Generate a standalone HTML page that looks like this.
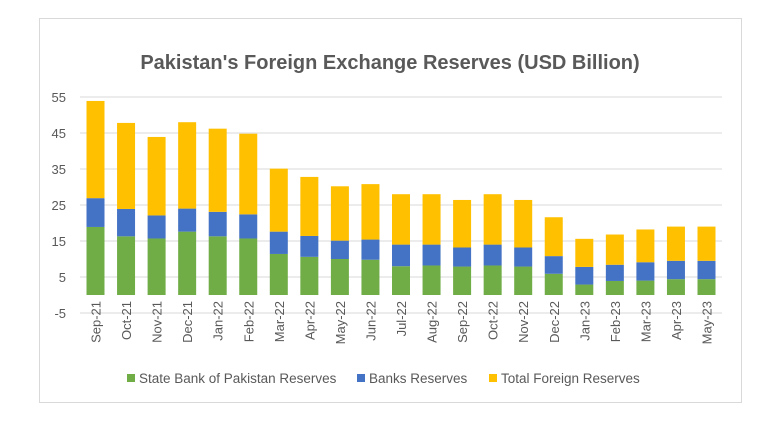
<!DOCTYPE html>
<html><head><meta charset="utf-8"><style>
body{margin:0;background:#fff;font-family:"Liberation Sans",sans-serif}
svg text{font-family:"Liberation Sans",sans-serif}
</style></head><body>
<svg width="778" height="429">
<rect x="39.5" y="18.5" width="702" height="384" fill="#fff" stroke="#d9d9d9"/>
<text x="390" y="69" text-anchor="middle" font-size="20" font-weight="bold" fill="#595959">Pakistan's Foreign Exchange Reserves (USD Billion)</text>
<g id="grid"></g><g id="bars"></g><g id="xl"></g>
<g>
<rect x="127" y="374" width="8" height="8" fill="#70ad47"/>
<text x="139" y="383" font-size="13.5" fill="#595959">State Bank of Pakistan Reserves</text>
<rect x="357" y="374" width="8" height="8" fill="#4472c4"/>
<text x="369" y="383" font-size="13.5" fill="#595959">Banks Reserves</text>
<rect x="489" y="374" width="8" height="8" fill="#ffc000"/>
<text x="501" y="383" font-size="13.5" fill="#595959">Total Foreign Reserves</text>
</g>
</svg>
<script>
const categories=["Sep-21","Oct-21","Nov-21","Dec-21","Jan-22","Feb-22","Mar-22","Apr-22","May-22","Jun-22","Jul-22","Aug-22","Sep-22","Oct-22","Nov-22","Dec-22","Jan-23","Feb-23","Mar-23","Apr-23","May-23"];
const sbp=[18.9,16.3,15.7,17.6,16.3,15.7,11.4,10.6,10.0,9.8,8.0,8.2,7.9,8.2,7.9,5.9,2.9,3.9,4.0,4.4,4.4];
const banks=[8.0,7.6,6.4,6.4,6.8,6.7,6.2,5.8,5.1,5.6,6.0,5.8,5.3,5.8,5.3,4.9,4.9,4.5,5.1,5.1,5.1];
const total=[27.0,23.9,21.8,24.0,23.1,22.4,17.5,16.4,15.1,15.4,14.0,14.0,13.2,14.0,13.2,10.8,7.8,8.4,9.1,9.5,9.5];
const ticks=[-5,5,15,25,35,45,55];
const NS="http://www.w3.org/2000/svg";
const y=v=>295-v*3.6, x=i=>95.5+i*30.55, bw=18;
function mk(t,a,p){const e=document.createElementNS(NS,t);for(const k in a)e.setAttribute(k,a[k]);p.appendChild(e);return e;}
const g=document.getElementById('grid');
ticks.forEach(t=>{
 const l=mk('line',{x1:80,x2:722,y1:y(t),y2:y(t),stroke:'#d9d9d9'},g);
 
 
 const tx=mk('text',{x:66,y:y(t)+5,'text-anchor':'end','font-size':13,fill:'#595959'},g);
 tx.textContent=t;
 
 
});
const b=document.getElementById('bars'),xl=document.getElementById('xl');
categories.forEach((c,i)=>{
 let base=0;
 [[sbp,'#70ad47','sbp'],[banks,'#4472c4','banks'],[total,'#ffc000','total']].forEach(([arr,col,n])=>{
  const v=arr[i];
  const r=mk('rect',{x:x(i)-bw/2,y:y(base+v),width:bw,height:v*3.6,fill:col},b);
  
  
  base+=v;
 });
 const t=mk('text',{transform:`translate(${x(i)+5},${301}) rotate(-90)`,'text-anchor':'end','font-size':13,fill:'#595959'},xl);
 t.textContent=c;
 
 
});
</script>
</body></html>
